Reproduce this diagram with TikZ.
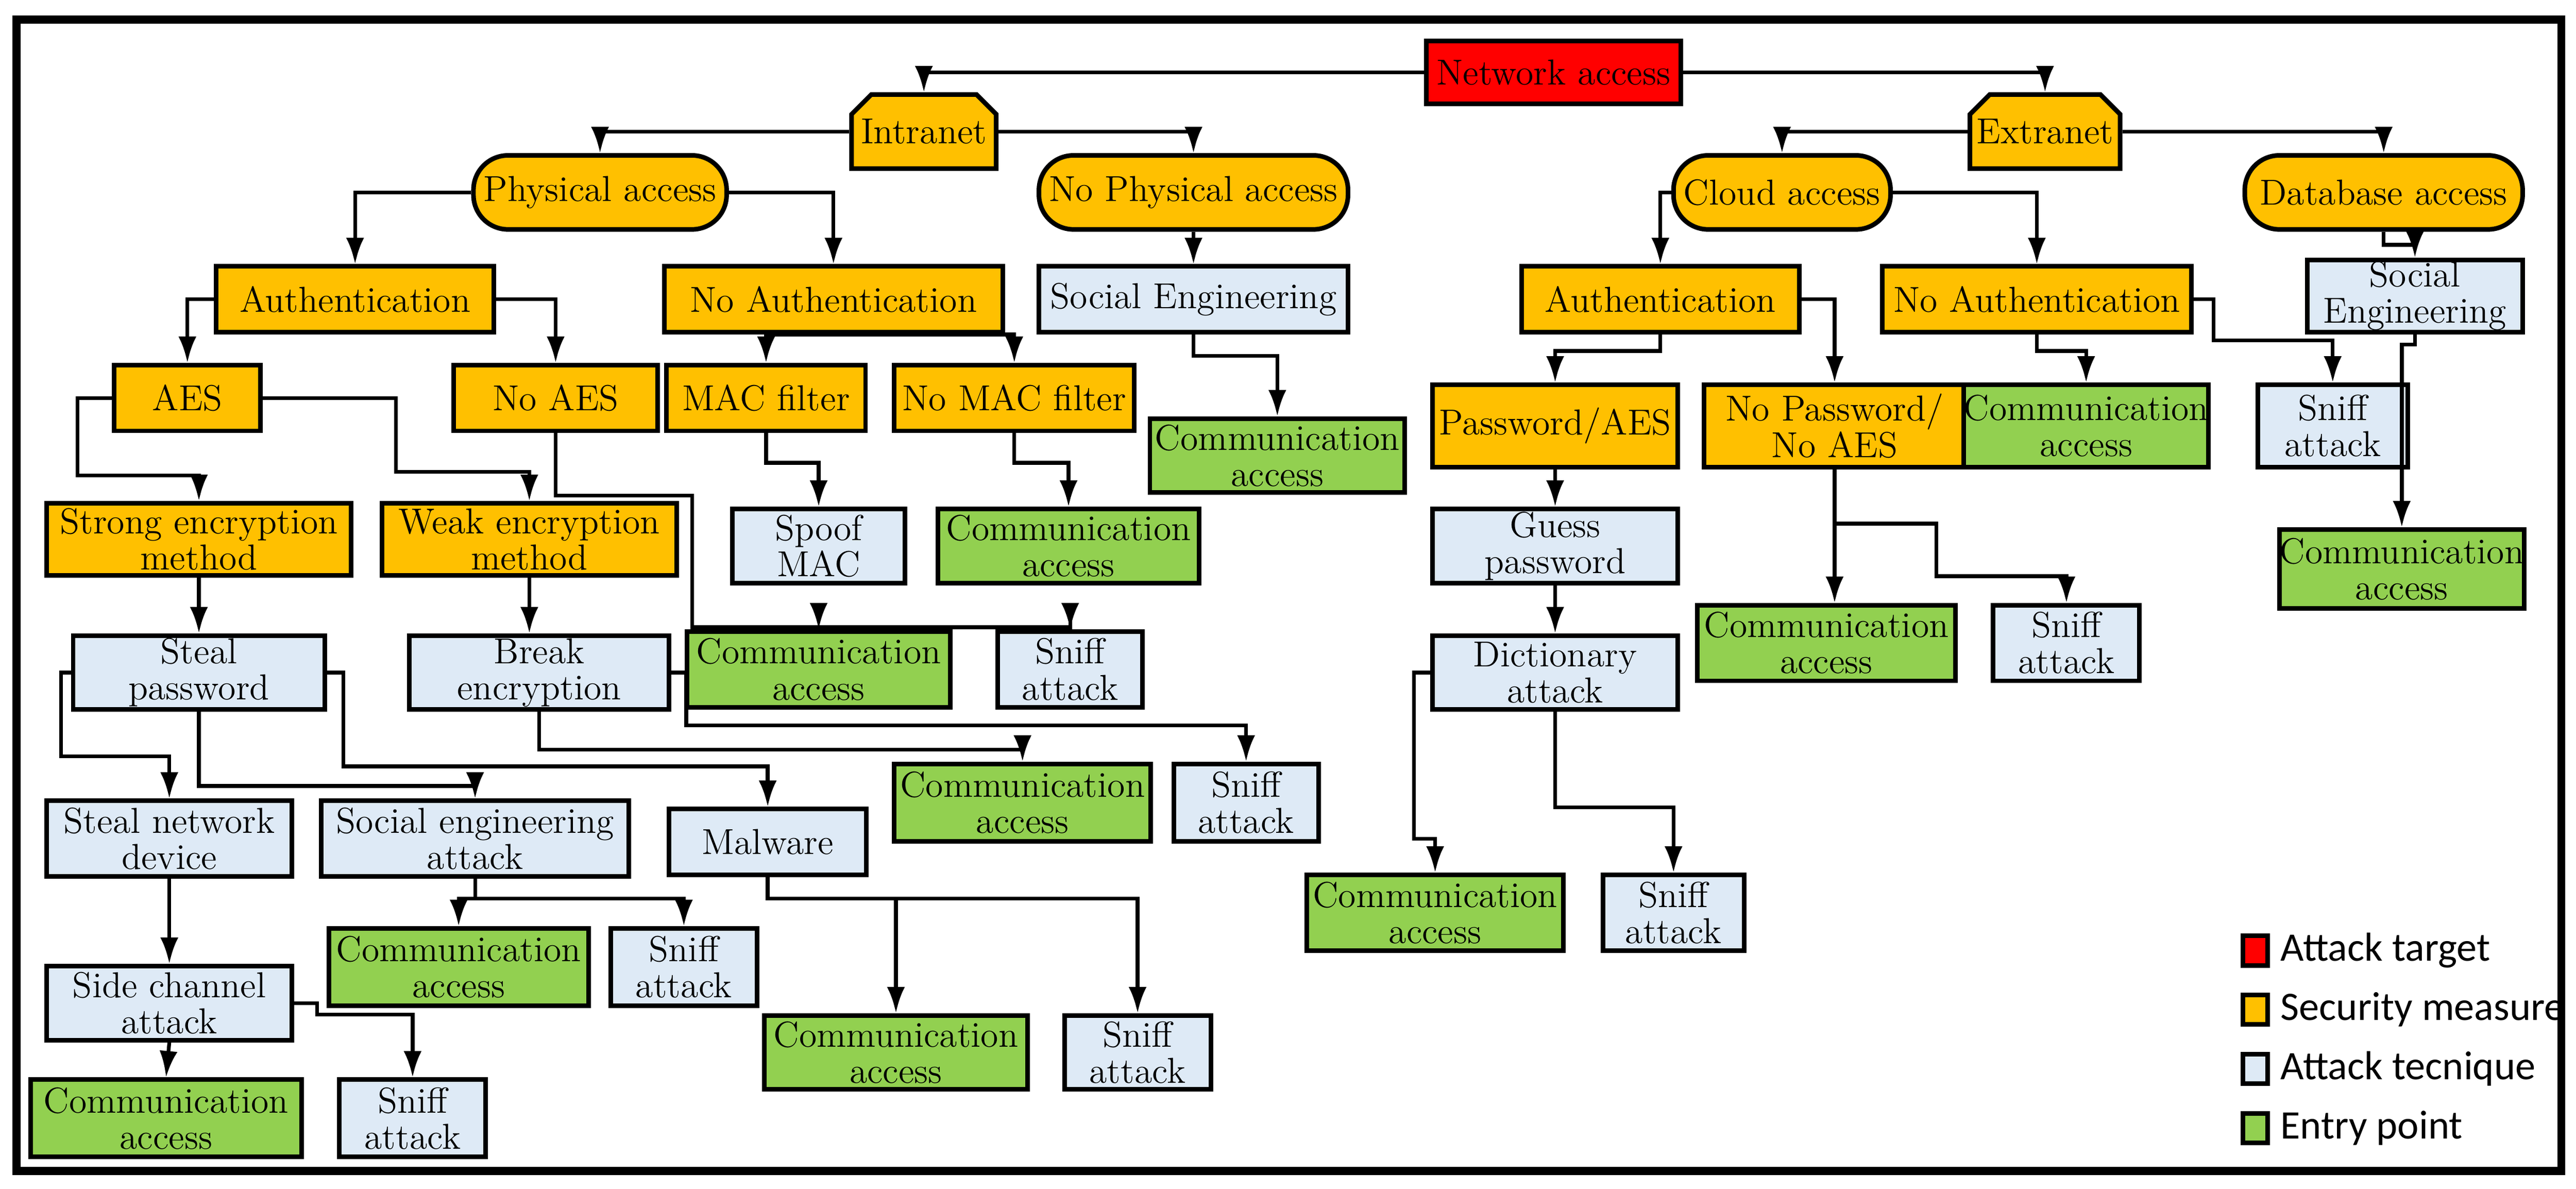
\documentclass[tikz,border=0pt]{standalone}
\usepackage{fontspec}
\newfontfamily\legendfont{Carlito}
\usetikzlibrary{arrows.meta,shapes.misc}
\definecolor{target}{HTML}{FF0000}
\definecolor{measure}{HTML}{FFC000}
\definecolor{technique}{HTML}{DEEAF6}
\definecolor{entry}{HTML}{92D050}
\tikzset{
  box/.style={draw=black, line width=1.6pt, align=center, inner sep=0pt,
    font=\fontsize{12.5}{12.5}\selectfont},
  sz/.style 2 args={minimum width=#1*0.02cm, minimum height=#2*0.02cm},
  tgt/.style={box, fill=target},
  sec/.style={box, fill=measure},
  secr/.style={box, fill=measure, rounded corners=0.42cm},
  seco/.style={box, fill=measure, chamfered rectangle, chamfered rectangle xsep=0.08cm,
    chamfered rectangle ysep=0.16cm, chamfered rectangle corners={north west,north east}},
  tec/.style={box, fill=technique},
  ent/.style={box, fill=entry},
  arr/.style={line width=1.3pt, -{Latex[length=3.2mm,width=2.2mm]}},
  leg/.style={draw=black, line width=1.6pt, minimum width=0.3cm, minimum height=0.36cm, inner sep=0pt},
  legtxt/.style={anchor=west, inner sep=0pt, font=\legendfont\fontsize{14}{14}\selectfont},
}
\begin{document}
\begin{tikzpicture}[x=0.02cm, y=-0.02cm]
\useasboundingbox (0,0) rectangle (1567,723);
\draw[line width=2.8pt] (10,12) rectangle (1558,712);

% top levels
\node[tgt, sz={155}{38}] (net) at (945,44) {Network access};
\node[seco, sz={88}{45}] (intra) at (562,80) {Intranet};
\node[seco, sz={88}{45}] (extra) at (1244,80) {Extranet};
\node[secr, sz={154}{45}] (phys) at (365,117) {Physical access};
\node[secr, sz={188}{45}] (nophys) at (726,117) {No Physical access};
\node[secr, sz={132}{45}] (cloud) at (1084,117) {Cloud access};
\node[secr, sz={169}{45}] (db) at (1450,117) {Database access};

% intranet branch
\node[sec, sz={169}{40}] (auth1) at (216,182) {Authentication};
\node[sec, sz={206}{40}] (noauth1) at (507,182) {No Authentication};
\node[tec, sz={188}{40}] (soceng1) at (726,182) {Social Engineering};
\node[sec, sz={89}{40}] (aes) at (114,242) {AES};
\node[sec, sz={124}{40}] (noaes) at (338,242) {No AES};
\node[sec, sz={121}{40}] (mac) at (466,242) {MAC filter};
\node[sec, sz={146}{40}] (nomac) at (617,242) {No MAC filter};
\node[ent, sz={155}{45}] (commse1) at (777,277) {Communication\\access};
\node[sec, sz={185}{44}] (strong) at (121,328) {Strong encryption\\method};
\node[sec, sz={179}{44}] (weak) at (322,328) {Weak encryption\\method};
\node[tec, sz={105}{45}] (spoof) at (498,332) {Spoof\\MAC};
\node[ent, sz={159}{45}] (commnm) at (650,332) {Communication\\access};
\node[tec, sz={153}{45}] (steal) at (121,409) {Steal\\password};
\node[tec, sz={158}{45}] (break) at (328,409) {Break\\encryption};
\node[ent, sz={160}{46}] (commnoaes) at (498,407) {Communication\\access};
\node[tec, sz={88}{46}] (sniffnoaes) at (651,407) {Sniff\\attack};
\node[ent, sz={156}{47}] (commbr) at (622,488) {Communication\\access};
\node[tec, sz={88}{47}] (sniffbr) at (758,488) {Sniff\\attack};
\node[tec, sz={149}{46}] (stealdev) at (103,510) {Steal network\\device};
\node[tec, sz={187}{46}] (socatk) at (289,510) {Social engineering\\attack};
\node[tec, sz={120}{40}] (malware) at (467,512) {Malware};
\node[ent, sz={158}{47}] (commsoc) at (279,588) {Communication\\access};
\node[tec, sz={89}{47}] (sniffsoc) at (416,588) {Sniff\\attack};
\node[tec, sz={149}{45}] (side) at (103,610) {Side channel\\attack};
\node[ent, sz={160}{45}] (commmal) at (545,640) {Communication\\access};
\node[tec, sz={89}{45}] (sniffmal) at (692,640) {Sniff\\attack};
\node[ent, sz={165}{47}] (commside) at (101,680) {Communication\\access};
\node[tec, sz={89}{47}] (sniffside) at (251,680) {Sniff\\attack};

% extranet branch
\node[sec, sz={169}{40}] (auth2) at (1010,182) {Authentication};
\node[sec, sz={188}{40}] (noauth2) at (1239,182) {No Authentication};
\node[tec, sz={131}{44}] (soceng2) at (1469,180) {Social\\Engineering};
\node[sec, sz={149}{50}] (pwaes) at (946,259) {Password/AES};
\node[sec, sz={159}{50}] (nopw) at (1116,259) {No Password/\\No AES};
\node[ent, sz={141}{50}] (commna2) at (1269,259) {Communication\\access};
\node[tec, sz={91}{50}] (sniffna2) at (1419,259) {Sniff\\attack};
\node[ent, sz={147}{48}] (commdb) at (1461,346) {Communication\\access};
\node[tec, sz={149}{45}] (guess) at (946,332) {Guess\\password};
\node[ent, sz={157}{46}] (commnopw) at (1111,391) {Communication\\access};
\node[tec, sz={89}{46}] (sniffnopw) at (1257,391) {Sniff\\attack};
\node[tec, sz={149}{45}] (dict) at (946,409) {Dictionary\\attack};
\node[ent, sz={156}{46}] (commdict) at (873,555) {Communication\\access};
\node[tec, sz={86}{46}] (sniffdict) at (1018,555) {Sniff\\attack};

% connectors
\draw[arr] (net.west) -| (intra.north);
\draw[arr] (net.east) -| (extra.north);
\draw[arr] (intra.west) -| (phys.north);
\draw[arr] (intra.east) -| (nophys.north);
\draw[arr] (extra.west) -| (cloud.north);
\draw[arr] (extra.east) -| (db.north);
\draw[arr] (phys.west) -| (auth1.north);
\draw[arr] (phys.east) -| (noauth1.north);
\draw[arr] (nophys.south) -- (soceng1.north);
\draw[arr] (cloud.west) -| (auth2.north);
\draw[arr] (cloud.east) -| (noauth2.north);
\draw[arr] (db.south) -- ++(0,8) -| (soceng2.north);
\draw[arr] (auth1.west) -| (aes.north);
\draw[arr] (auth1.east) -| (noaes.north);
\draw[arr] (noauth1.south -| mac.north) -- (mac.north);
\draw[arr] (noauth1.south -| mac.north) -| (nomac.north);
\draw[arr] (soceng1.south) -- ++(0,13) -| (commse1.north);
\draw[arr] (auth2.south) -- ++(0,10) -| (pwaes.north);
\draw[arr] (auth2.east) -| (nopw.north);
\draw[arr] (noauth2.south) -- ++(0,10) -| (commna2.north);
\draw[arr] (noauth2.east) -| ++(12,25) -| (sniffna2.north);
\draw[arr] (soceng2.south) -- ++(0,6) -| (commdb.north);
\draw[arr] (aes.west) -| ++(-21,47) -| (strong.north);
\draw[arr] (aes.east) -| ++(81,45) -| (weak.north);
\draw[arr] (noaes.south) |- ++(83,38) |- ++(0,80) -| (sniffnoaes.north);
\draw[arr] (commnoaes.north |- sniffnoaes.north) ++(0,-11) -- (commnoaes.north);
\draw[arr] (mac.south) -- ++(0,18) -| (spoof.north);
\draw[arr] (nomac.south) -- ++(0,18) -| (commnm.north);
\draw[arr] (strong.south) -- (steal.north);
\draw[arr] (weak.south) -- (break.north -| weak.south);
\draw[arr] (pwaes.south) -- (guess.north);
\draw[arr] (guess.south) -- (dict.north);
\draw[arr] (nopw.south) -- (commnopw.north -| nopw.south);
\draw[arr] (nopw.south) ++(0,33) -| ++(62,32) -| (sniffnopw.north);
\draw[arr] (steal.west) -| ++(-6,51) -| (stealdev.north);
\draw[arr] (steal.south) -- ++(0,45) -| (socatk.north);
\draw[arr] (steal.east) -| ++(10,57) -| (malware.north);
\draw[arr] (break.south) -- ++(0,23) -| (commbr.north);
\draw[arr] (break.east) -| ++(9,32) -| (sniffbr.north);
\draw[arr] (dict.west) -| ++(-10,101) -| (commdict.north);
\draw[arr] (dict.south) -- ++(0,58) -| (sniffdict.north);
\draw[arr] (stealdev.south) -- (side.north);
\draw[arr] (socatk.south) -- ++(0,12) -| (commsoc.north);
\draw[arr] (socatk.south) ++(0,12) -| (sniffsoc.north);
\draw[arr] (malware.south) -- ++(0,13) -| (commmal.north);
\draw[arr] (malware.south) ++(0,13) -| (sniffmal.north);
\draw[arr] (side.south) -- (commside.north);
\draw[arr] (side.east) -| ++(14,7) -| (sniffside.north);

% legend
\node[leg, fill=target] (legtgt) at (1372,578) {};
\node[leg, fill=measure] (legsec) at (1372,614) {};
\node[leg, fill=technique] (legtec) at (1372,650) {};
\node[leg, fill=entry] (legent) at (1372,686) {};
\node[legtxt] at ([xshift=0.12cm]legtgt.east) {Attack target};
\node[legtxt] at ([xshift=0.12cm]legsec.east) {Security measure};
\node[legtxt] at ([xshift=0.12cm]legtec.east) {Attack tecnique};
\node[legtxt] at ([xshift=0.12cm]legent.east) {Entry point};
\end{tikzpicture}
\end{document}
